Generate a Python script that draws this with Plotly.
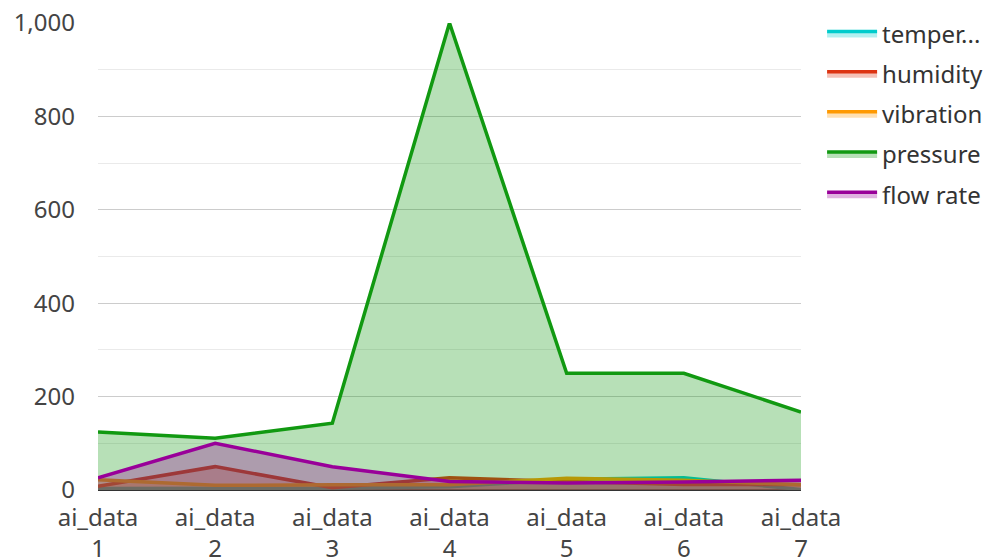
import plotly.graph_objects as go

categories = ["ai_data<br>1", "ai_data<br>2", "ai_data<br>3", "ai_data<br>4",
              "ai_data<br>5", "ai_data<br>6", "ai_data<br>7"]
temperature = [3, 3, 4, 7, 23, 26, 1]
humidity = [8, 50, 5, 26, 18, 12, 12]
vibration = [22, 10, 11, 11, 25, 21, 11]
pressure = [124, 111, 143, 1000, 250, 250, 167]
flow_rate = [26, 100, 50, 18, 15, 17, 21]

series = [
    ("temper...", temperature, "#00CCCC", "rgba(0,204,204,0.3)"),
    ("humidity", humidity, "#DD3311", "rgba(221,51,17,0.3)"),
    ("vibration", vibration, "#FF9900", "rgba(255,153,0,0.3)"),
    ("pressure", pressure, "#119911", "rgba(17,153,17,0.3)"),
    ("flow rate", flow_rate, "#990099", "rgba(153,0,153,0.3)"),
]

fig = go.Figure()
for name, vals, color, fillc in series:
    fig.add_trace(go.Scatter(
        x=categories, y=vals, name=name, mode="lines",
        line=dict(color=color, width=3.5),
        fill="tozeroy", fillcolor=fillc, legendgroup=name,
    ))

fig.update_layout(
    width=983, height=552,
    margin=dict(l=90, r=190, t=15, b=70, autoexpand=False),
    paper_bgcolor="white", plot_bgcolor="white",
    font=dict(family="Noto Sans, Open Sans, sans-serif", size=24, color="#444"),
    showlegend=True,
    legend=dict(x=1.03, y=1.025, xanchor="left", yanchor="top",
                traceorder="grouped", tracegroupgap=6,
                font=dict(size=24, color="#333"), itemwidth=50,
                bgcolor="rgba(0,0,0,0)"),
    xaxis=dict(type="category", range=[0, 6], showgrid=False,
               showline=False, zeroline=False, ticks="", automargin=False,
               ticklabelstandoff=11, ticklabeloverflow="allow",
               tickfont=dict(size=24, color="#444")),
    yaxis=dict(range=[0, 1000], dtick=200, tickformat=",",
               showgrid=True, gridcolor="#cccccc", gridwidth=1,
               zeroline=True, zerolinecolor="#333333", zerolinewidth=2,
               showline=False, ticks="", automargin=False,
               ticklabelstandoff=22, ticklabeloverflow="allow",
               minor=dict(dtick=100, showgrid=True, gridcolor="#eaeaea", gridwidth=1),
               tickfont=dict(size=24, color="#444")),
)

fig.write_html("out.html")
